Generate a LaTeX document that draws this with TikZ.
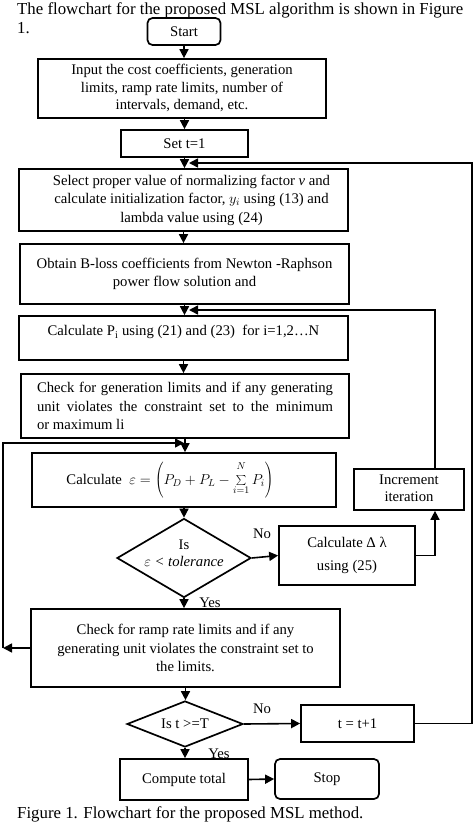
\documentclass[tikz,border=0pt]{standalone}
\usepackage{fontspec}
\setmainfont{Liberation Serif}
\usetikzlibrary{shapes.geometric,arrows.meta}
\hyphenpenalty=10000
\exhyphenpenalty=10000
\begin{document}
\begin{tikzpicture}[x=1pt,y=-1pt,
  box/.style={draw,line width=1.7pt,inner sep=0pt,align=center,font=\fontsize{14.7}{18.5}\selectfont},
  rbox/.style={box,rounded corners=5pt},
  diam/.style={draw,diamond,line width=1.7pt,inner sep=0pt,font=\fontsize{14.7}{18.5}\selectfont},
  arr/.style={-{Triangle[length=9pt,width=9pt]},line width=1.6pt},
  lbl/.style={font=\fontsize{14.7}{16}\selectfont,inner sep=0pt},
  big/.style={font=\fontsize{16.8}{19}\selectfont,inner sep=0pt}]
\useasboundingbox (0,0) rectangle (474,822);
\fill[white] (0,0) rectangle (474,822);

\node[big,anchor=base west] (hdr) at (17,14) {The flowchart for the proposed MSL algorithm is shown in Figure};
\node[big,anchor=base west] (hdr2) at (17,33) {1.};

\node[rbox,minimum width=73pt,minimum height=27pt] (start) at (184,31.5) {\raisebox{-2pt}{Start}};
\node[box,minimum width=288pt,minimum height=59pt] (input) at (182,88.5)
  {\raisebox{-3pt}{\begin{tabular}{@{}c@{}}Input the cost coefficients, generation\\[-1pt]limits, ramp rate limits, number of\\[-1pt]intervals, demand, etc.\end{tabular}}};
\node[box,minimum width=127pt,minimum height=27pt] (set) at (184.5,143.5) {\raisebox{-2pt}{Set t=1}};
\node[box,minimum width=329pt,minimum height=62pt] (select) at (183.5,200)
  {\raisebox{-3pt}{\begin{tabular}{@{}c@{}}\hspace*{16pt}Select proper value of normalizing factor \textit{v} and\\\hspace*{16pt}calculate initialization factor, $y_i$ using (13) and\\\hspace*{16pt}lambda value using (24)\end{tabular}}};
\node[box,minimum width=329pt,minimum height=60pt] (obtain) at (184.5,274)
  {Obtain B-loss coefficients from Newton -Raphson\\power flow solution and};
\node[box,minimum width=329pt,minimum height=44pt] (pi) at (183.5,338)
  {Calculate P$_{\mathrm{i}}$ using (21) and (23) \ for i=1,2\ldots N\\[-4pt]};
\node[box,minimum width=328pt,minimum height=64pt,text width=296pt,align=justify] (gen) at (185,406)
  {Check for generation limits and if any generating\linebreak unit violates the constraint set to the minimum\linebreak or maximum li};
\node[box,minimum width=304pt,minimum height=54pt] (eps) at (184,480)
  {\raisebox{-4pt}{Calculate \ $\varepsilon = \left( P_D + P_L - \sum\limits_{i=1}^{\raisebox{4pt}{$\scriptstyle N$}} P_i \right)$}\hspace*{28pt}};
\node[diam,minimum width=134pt,minimum height=79pt] (d1) at (184,558)
  {\smash{\makebox[0pt]{\begin{tabular}[c]{@{}c@{}}Is\\[-1pt]$\varepsilon$ \textit{< tolerance}\end{tabular}}}};
\node[box,minimum width=136pt,minimum height=59pt] (dl) at (347,555.5)
  {Calculate Δ λ\\[4pt]using (25)};
\node[box,minimum width=110pt,minimum height=41pt] (inc) at (409,489.5)
  {\raisebox{-3pt}{\begin{tabular}{@{}c@{}}Increment\\[-2pt]iteration\end{tabular}}};
\node[box,minimum width=309pt,minimum height=78pt] (ramp) at (185.5,648)
  {Check for ramp rate limits and if any\\generating unit violates the constraint set to\\the limits.};
\node[diam,minimum width=116pt,minimum height=46pt] (d2) at (185,724)
  {\smash{\makebox[0pt]{\raisebox{-4pt}{Is t >=T}}}};
\node[box,minimum width=113pt,minimum height=37pt] (tt) at (357.5,723.5) {t = t+1};
\node[box,minimum width=128pt,minimum height=41pt] (comp) at (184,779.5) {\raisebox{3pt}{Compute total}};
\node[rbox,minimum width=104pt,minimum height=40pt] (stop) at (327,779) {\raisebox{-3pt}{Stop}};

\node[big,anchor=base west] (cap) at (17,818) {Figure 1. Flowchart for the proposed MSL method.};

\node[lbl] (no1) at (262,534) {No};
\node[lbl] (yes1) at (210,603) {Yes};
\node[lbl] (no2) at (262,709) {No};
\node[lbl] (yes2) at (219,754) {Yes};

\coordinate (rx) at (472,0);
\coordinate (vx) at (435,0);
\coordinate (j1) at (189,163);
\coordinate (j2) at (189,310);
\coordinate (j3) at (184,443);
\coordinate (lc) at (3,648);

\draw[arr] (start.south) -- (start.south |- input.north);
\draw[arr] (input.south -| set.north) -- (set.north);
\draw[arr] (set.south) -- (set.south |- select.north);
\draw[arr] (select.south) -- (select.south |- obtain.north);
\draw[arr] (obtain.south) -- (obtain.south |- pi.north);
\draw[arr] (pi.south) -- (pi.south |- gen.north);
\draw[arr] (gen.south) -- (gen.south |- eps.north);
\draw[arr] (eps.south) -- (eps.south |- d1.north);
\draw[arr] (d1.east) -- (dl.west);
\draw[arr] (dl.east) -| (inc.south -| vx);
\draw[arr] (inc.north -| vx) |- (j2);
\draw[arr] (d1.south) -- (d1.south |- ramp.north);
\draw[arr] (ramp.south) -- (ramp.south |- d2.north);
\draw[arr] (d2.east) -- (tt.west);
\draw[arr] (tt.east) -- (tt.east -| rx) |- (j1);
\draw[arr] (d2.south) -- (d2.south |- comp.north);
\draw[arr] (comp.east) -- (stop.west);
\draw[arr] (ramp.west) -- (lc);
\draw[arr] (lc) |- (j3);
\end{tikzpicture}
\end{document}
